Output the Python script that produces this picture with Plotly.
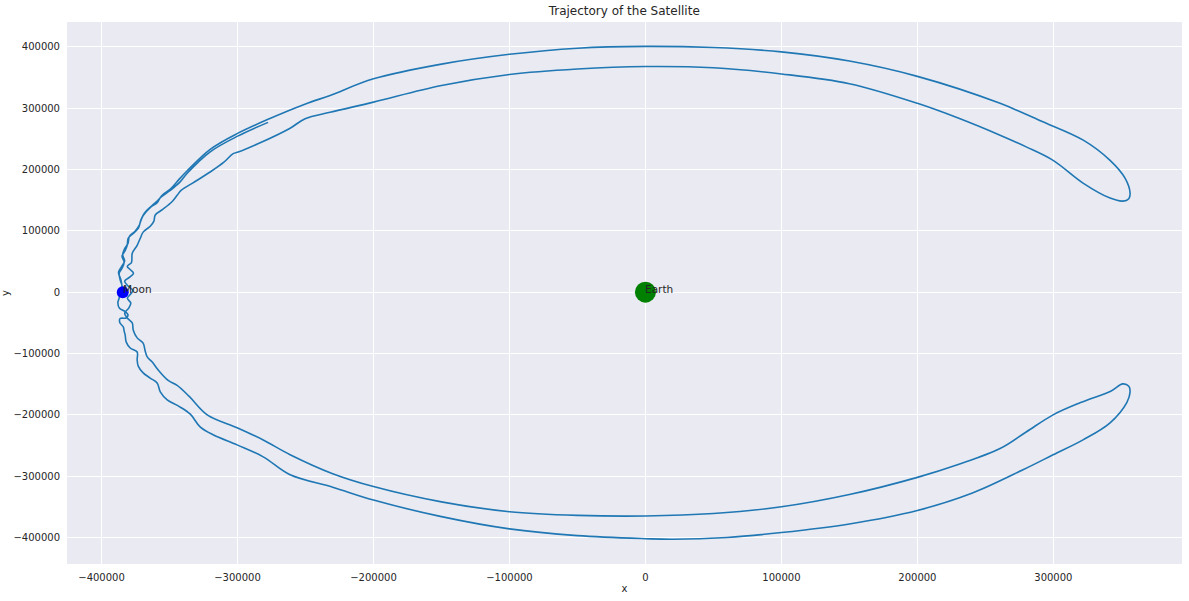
import plotly.graph_objects as go

# ---------------- data ----------------
traj_x = [
    -277500, -299500, -320100, -337000, -342200, -349500, -356800, -359100, -364200, -369400,
    -371500, -373000, -376700, -380400, -381100, -382600, -384900, -383400, -384900, -387000,
    -386300, -384900, -386300, -387000,
    -388000, -386800, -383000, -380500, -382000, -386300, -386500, -384000, -383400, -382600,
    -381900, -378900, -373800,
    -373800, -373000, -369400, -364200, -359100, -356800, -351700, -343600, -334900, -327500,
    -317900, -300300, -281100, -261300,
    -230000, -200000, -150000, -100000, -50000, 0, 20000, 60000, 100000, 150000,
    200000, 240000, 277700, 299800, 321800, 341700, 354000, 356400, 355500, 351000,
    342500, 320000, 299800, 280000, 260800, 230000, 200000, 150000, 100000, 50000,
    0, -50000, -100000, -150000, -200000, -230000, -261300, -281100, -300300,
    -322300, -335500, -344400, -351000, -358300, -362700, -366400, -368000, -369400, -373800,
    -376700, -377400, -381100, -383000, -380000, -378500, -381000, -379000, -377000, -380500,
    -383000, -379000, -376500, -379000, -381100,
    -378100, -377700, -377400, -373800, -371500, -369400, -364000, -361500, -360500, -355000,
    -348000, -344400, -341500, -333000, -320100, -310000, -303200, -299500, -285000, -261300,
    -250300, -231900,
    -200000, -150000, -100000, -50000, 0, 50000, 100000, 150000, 200000, 230000,
    260800, 280000, 299800, 321800, 341700, 351000, 355500, 356400, 352700, 341700, 322000,
    290000, 260800, 200000, 150000, 100000, 50000, 0, -50000, -100000, -150000,
    -200000, -231900, -250000, -277500, -300000, -320100, -337000, -343000, -349000, -355400,
    -358000, -363000, -368500, -371000, -372500, -375500, -379500, -380500, -383000, -384500,
    -383000, -385500, -387500, -386000, -385000,
]
traj_y = [
    277000, 255000, 229000, 194000, 180000, 166000, 154000, 146000, 138000, 125000,
    114000, 104000, 96000, 88000, 77000, 68000, 59000, 49000, 39000, 31000,
    20000, 10000, 0, -9500,
    -17000, -26000, -31000, -37000, -42000, -43000, -50000, -56500, -63000, -70000,
    -81000, -91000, -97500,
    -110500, -120500, -131500, -140000, -148000, -162500, -175500, -185500, -198500, -219500,
    -232500, -249000, -268500, -297800,
    -318000, -339000, -366000, -386000, -397000, -402000, -403000, -400000, -392000, -378000,
    -356000, -328000, -289600, -265200, -240800, -213000, -180000, -163000, -153500, -149500,
    -161000, -180000, -200000, -228000, -255000, -281000, -302000, -330000, -350000, -361000,
    -365000, -364000, -358000, -342000, -317000, -296000, -265000, -241000, -221000,
    -200000, -170000, -152000, -144000, -127000, -114000, -105500, -95000, -83000, -74500,
    -61500, -50000, -42000, -34000, -26000, -17500, -10000, -4000, 3000, 10000,
    18000, 25000, 31000, 37000, 42000,
    48000, 52500, 63500, 76500, 88000, 98000, 108000, 116000, 126000, 135000,
    148000, 158000, 166000, 178000, 196000, 212000, 226000, 228500, 242000, 267500,
    283000, 293500,
    310000, 337000, 355000, 364000, 368000, 366000, 356000, 340000, 308000, 284000,
    256000, 237000, 215000, 178000, 153500, 148500, 152500, 162000, 186000, 215000, 248000,
    280000, 308000, 352000, 377000, 392000, 399000, 401000, 398000, 388000, 372000,
    348000, 321000, 307000, 282000, 259000, 233000, 198000, 184000, 169000, 158000,
    151000, 141000, 129000, 118000, 108000, 99000, 91000, 80000, 71000, 61000,
    51000, 41000, 32000, 22000, 12000,
]

body_names = ["Moon", "Earth"]
body_x = [-384400, 0]
body_y = [0, 0]
body_colors = ["blue", "green"]
body_sizes = [12, 21]

x_ticks = [-400000, -300000, -200000, -100000, 0, 100000, 200000, 300000]
y_ticks = [-400000, -300000, -200000, -100000, 0, 100000, 200000, 300000, 400000]


def fmt(v):
    return ("\u2212" + str(abs(v))) if v < 0 else str(v)


fig = go.Figure()
fig.add_trace(go.Scatter(
    x=traj_x, y=traj_y, mode="lines",
    line=dict(color="#1f77b4", width=1.6, shape="spline", smoothing=1.0),
    hoverinfo="skip", showlegend=False,
))
fig.add_trace(go.Scatter(
    x=body_x, y=body_y, mode="markers",
    marker=dict(color=body_colors, size=body_sizes, opacity=1, line=dict(width=0)),
    opacity=1, showlegend=False, hoverinfo="skip",
))
for name, bx, by in zip(body_names, body_x, body_y):
    fig.add_annotation(
        x=bx, y=by, text=name, showarrow=False, xanchor="left", yanchor="middle",
        xshift=-2, yshift=3, font=dict(family="DejaVu Sans", size=10.5, color="#262626"),
    )

axis_common = dict(
    showgrid=True, gridcolor="white", gridwidth=1,
    zeroline=True, zerolinecolor="white", zerolinewidth=1,
    showline=False, ticks="outside", ticklen=4, tickcolor="rgba(0,0,0,0)",
    tickfont=dict(family="DejaVu Sans", size=10, color="#262626"),
    automargin=False,
)
fig.update_xaxes(
    range=[-425400, 394600], tickvals=x_ticks, ticktext=[fmt(v) for v in x_ticks],
    title=dict(text="x", font=dict(family="DejaVu Sans", size=10, color="#262626"), standoff=2),
    **axis_common,
)
fig.update_yaxes(
    range=[-443300, 440700], tickvals=y_ticks, ticktext=[fmt(v) for v in y_ticks],
    title=dict(text="y", font=dict(family="DejaVu Sans", size=10, color="#262626"), standoff=4),
    **axis_common,
)
fig.update_layout(
    width=1189, height=601,
    margin=dict(l=67, r=7, t=22, b=37),
    paper_bgcolor="white", plot_bgcolor="#EAEAF2",
    hovermode=False,
    title=dict(text="Trajectory of the Satellite", x=0.525, xanchor="center", y=0.982, yanchor="middle",
               font=dict(family="DejaVu Sans", size=12, color="#262626")),
)
fig.write_html(
    "out.html",
    config={"displayModeBar": False},
    post_script="document.body.style.margin='0px';document.body.style.overflow='hidden';",
)
